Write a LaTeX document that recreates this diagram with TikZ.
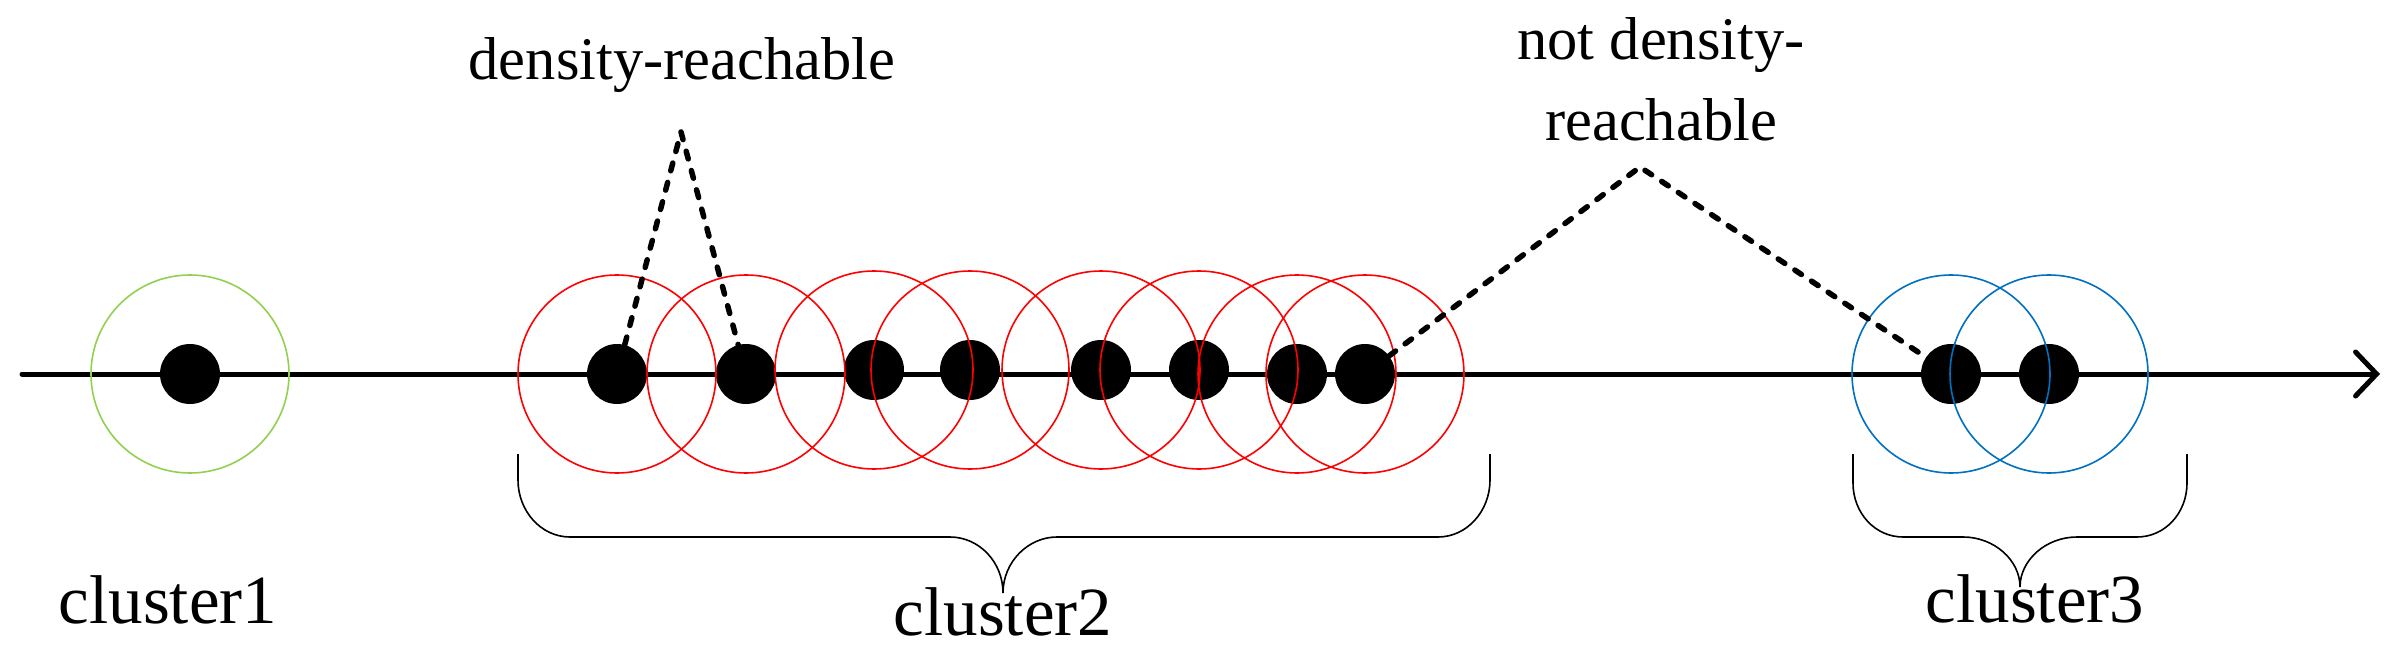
\documentclass[tikz,border=0pt]{standalone}
\usepackage{fontspec}
\setmainfont{Liberation Serif}
\usetikzlibrary{arrows.meta}
\definecolor{cgreen}{RGB}{146,208,80}
\definecolor{cred}{RGB}{255,0,0}
\definecolor{cblue}{RGB}{0,112,192}
\tikzset{
  dot/.style={circle,fill=black,inner sep=0pt,minimum size=60pt},
  ring/.style={line width=1.6pt},
  dashline/.style={line width=5.5pt,line cap=round,line join=round,dash pattern=on 8pt off 12pt},
  bracepath/.style={line width=1.6pt},
  anno/.style={font=\fontsize{60.5}{80}\selectfont,inner sep=0pt,anchor=base},
  clab/.style={font=\fontsize{69}{80}\selectfont,inner sep=0pt,anchor=base},
  axisline/.style={line width=5pt,line cap=round,-{Straight Barb[length=21pt,width=44pt,line cap=round]}}
}
\begin{document}
\begin{tikzpicture}[x=1pt,y=-1pt]
\path[use as bounding box,fill=white] (0,0) rectangle (2406,658);
% axis
\coordinate (ax0) at (22,374);
\coordinate (ax1) at (2380,374);
\draw[axisline] (ax0) -- (ax1);
% points
\node[dot] (g1) at (190,374) {};
\node[dot] (r1) at (617,374) {};
\node[dot] (r2) at (746,374) {};
\node[dot] (r3) at (874,370) {};
\node[dot] (r4) at (970,370) {};
\node[dot] (r5) at (1101,370) {};
\node[dot] (r6) at (1199,370) {};
\node[dot] (r7) at (1297,374) {};
\node[dot] (r8) at (1365,374) {};
\node[dot] (b1) at (1951,374) {};
\node[dot] (b2) at (2049,374) {};
% eps-neighbourhoods
\draw[ring,cgreen] (g1.center) circle[radius=99];
\foreach \p in {r1,r2,r3,r4,r5,r6,r7,r8}{\draw[ring,cred] (\p.center) circle[radius=99];}
\draw[ring,cblue] (b1.center) circle[radius=99];
\draw[ring,cblue] (b2.center) circle[radius=99];
% annotations
\node[anno] (t1) at (682,80) {density-reachable};
\node[anno] (t2a) at (1661,60) {not density-};
\node[anno] (t2b) at (1661,140) {reachable};
\coordinate (apx1) at (681,132);
\coordinate (apx2) at (1640,167);
\draw[dashline] (r1) -- (apx1) -- (r2);
\draw[dashline] (r8) -- (apx2) -- (b1);
% braces
\draw[bracepath] (518,454) -- (518,480) .. controls (518,511) and (541,537) .. (570,537)
  -- (950,537) .. controls (979,537) and (1003,562) .. (1003,593)
  .. controls (1003,562) and (1028,537) .. (1057,537)
  -- (1438,537) .. controls (1467,537) and (1490,511) .. (1490,480) -- (1490,454);
\draw[bracepath] (1853,454) -- (1853,483) .. controls (1853,513) and (1875,537) .. (1903,537)
  -- (1963,537) .. controls (1994,537) and (2020,560) .. (2020,587)
  .. controls (2020,560) and (2046,537) .. (2077,537)
  -- (2137,537) .. controls (2165,537) and (2187,513) .. (2187,483) -- (2187,454);
% cluster labels
\node[clab] (c1) at (168,623) {cluster1};
\node[clab] (c2) at (1003,635) {cluster2};
\node[clab] (c3) at (2035,622) {cluster3};
\end{tikzpicture}
\end{document}
